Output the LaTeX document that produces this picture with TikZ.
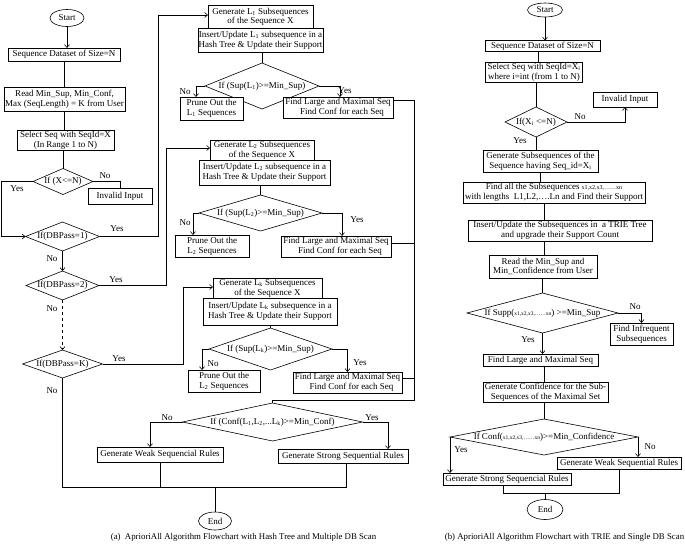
\documentclass[tikz,border=0pt]{standalone}
\usepackage{fontspec}
\setmainfont{Liberation Serif}
\usetikzlibrary{shapes.geometric,arrows.meta,shadows,calc}
\tikzset{
  base/.style={font=\fontsize{9}{9.8}\selectfont, inner sep=0.5pt, outer sep=0pt},
  box/.style={base, draw, fill=white, align=center, line width=0.6pt,
    drop shadow={shadow xshift=0.7pt, shadow yshift=-0.7pt, opacity=1, fill=gray!70}},
  dia/.style={draw, diamond, inner sep=0pt, outer sep=0pt, line width=0.6pt},
  dtext/.style={base, align=center},
  term/.style={base, draw, ellipse, line width=0.6pt},
  lbl/.style={base},
  captext/.style={font=\fontsize{8.8}{10}\selectfont, inner sep=0pt},
  arr/.style={-{Straight Barb[length=3pt,width=5pt]}},
  ln/.style={line width=0.6pt}
}
\begin{document}
\begin{tikzpicture}[x=1pt,y=-1pt]
\useasboundingbox (0,0) rectangle (685,544);
% ===== Left flowchart (a) =====
\node[term, minimum width=34, minimum height=17] (start) at (67,18) {Start};
\node[box, minimum width=112, minimum height=13] (seq) at (64,54.5) {Sequence Dataset of Size=N};
\node[box, minimum width=121, minimum height=24] (read) at (64.5,99) {Read Min\_Sup, Min\_Conf,\\Max (SeqLength) = K from User};
\node[box, minimum width=97, minimum height=20] (sel) at (65.5,140) {Select Seq with SeqId=X\\(In Range 1 to N)};
\node[dia, minimum width=60, minimum height=26] (d0) at (63,181.5) {};
\node[dtext] (d0t) at (d0) {If (X<=N)};
\node[box, minimum width=64, minimum height=16] (inv) at (120,196) {Invalid Input};
\node[dia, minimum width=74, minimum height=29] (d1) at (62.5,236.5) {};
\node[dtext] (d1t) at (d1) {If(DBPass=1)};
\node[dia, minimum width=73, minimum height=29] (d2) at (62.5,285.5) {};
\node[dtext] (d2t) at (d2) {If(DBPass=2)};
\node[dia, minimum width=80, minimum height=28] (dk) at (62.5,364) {};
\node[dtext] (dkt) at (dk) {If(DBPass=K)};

\draw[ln,arr] (start.south) -- (start.south |- seq.north);
\draw[ln] (read.north |- seq.south) -- (read.north);
\draw[ln] (read.south) -- (read.south |- sel.north);
\draw[ln] (d0.north |- sel.south) -- (d0.north);
\draw[ln] (d0.east) -| (inv.north);
\node[lbl] (no0) at (105,176) {No};
\coordinate (c1) at (1,181.5);
\draw[ln,arr] (d0.west) -- (c1) |- (d1.west);
\node[lbl] (yes0) at (17,189) {Yes};

% L1 block
\node[box, minimum width=105, minimum height=23.5] (g1) at (260.5,16.75) {Generate L\textsubscript{1} Subsequences\\of the Sequence X};
\node[box, minimum width=115, minimum height=23.5] (i1) at (260.5,40.25) {Insert/Update L\textsubscript{1} subsequence in a\\Hash Tree \& Update their Support};
\node[dia, minimum width=114, minimum height=46] (s1) at (262,86) {};
\node[dtext] (s1t) at (s1) {If (Sup(L\textsubscript{1})>=Min\_Sup)};
\node[box, minimum width=63, minimum height=23] (p1) at (211.5,108.5) {Prune Out the\\L\textsubscript{1} Sequences};
\node[box, minimum width=110, minimum height=21] (f1) at (338,107.5) {Find Large and Maximal Seq\\\hspace*{8pt}Find Conf for each Seq};
\draw[ln] (s1.north |- i1.south) -- (s1.north);
\draw[ln,arr] (s1.west) -| ([xshift=-15.5pt]p1.north);
\draw[ln,arr] (s1.east) -| ([xshift=2pt]f1.north);
\node[lbl] (no1) at (185,92) {No};
\node[lbl] (yes1) at (345,91) {Yes};
\coordinate (c2) at (158,15);
\draw[ln,arr] (d1.east) -| (c2) -- (c2 -| g1.west);
\node[lbl] (yesd1) at (117,229) {Yes};
\draw[ln,arr] (d1.south) -- (d2.north);
\node[lbl] (nod1) at (52,259) {No};

% L2 block
\node[box, minimum width=104, minimum height=20] (g2) at (262,150) {Generate L\textsubscript{2} Subsequences\\of the Sequence X};
\node[box, minimum width=131, minimum height=25] (i2) at (264.5,172.5) {Insert/Update L\textsubscript{2} subsequence in a\\Hash Tree \& Update their Support};
\node[dia, minimum width=123, minimum height=36] (s2) at (260.5,213) {};
\node[dtext] (s2t) at (s2) {If (Sup(L\textsubscript{2})>=Min\_Sup)};
\node[box, minimum width=74, minimum height=22] (p2) at (212,246) {Prune Out the\\L\textsubscript{2} Sequences};
\node[box, minimum width=110, minimum height=21] (f2) at (336,246.5) {Find Large and Maximal Seq\\\hspace*{8pt}Find Conf for each Seq};
\draw[ln] (s2.north |- i2.south) -- (s2.north);
\draw[ln,arr] (s2.west) -| ([xshift=-19pt]p2.north);
\draw[ln,arr] (s2.east) -| ([xshift=6pt]f2.north);
\node[lbl] (no2) at (185,223) {No};
\node[lbl] (yes2) at (357,220) {Yes};
\coordinate (c3) at (166,148);
\draw[ln,arr] (d2.east) -| (c3) -- (c3 -| g2.west);
\node[lbl] (yesd2) at (116,280) {Yes};
\draw[ln,dashed,arr] (d2.south) -- (dk.north);
\node[lbl] (nod2) at (52,309) {No};

% Lk block
\node[box, minimum width=109, minimum height=20] (gk) at (267.5,288) {Generate L\textsubscript{k} Subsequences\\of the Sequence X};
\node[box, minimum width=134, minimum height=27] (ik) at (270,311.5) {Insert/Update L\textsubscript{k} subsequence in a\\Hash Tree \& Update their Support};
\node[dia, minimum width=123, minimum height=42] (sk) at (270.5,349) {};
\node[dtext] (skt) at (sk) {If (Sup(L\textsubscript{k})>=Min\_Sup)};
\node[box, minimum width=72, minimum height=22] (pk) at (224,381) {Prune Out the\\L\textsubscript{2} Sequences};
\node[box, minimum width=109, minimum height=21] (fk) at (347.5,382.5) {Find Large and Maximal Seq\\\hspace*{8pt}Find Conf for each Seq};
\draw[ln] (sk.north |- ik.south) -- (sk.north);
\draw[ln,arr] (sk.west) -| ([xshift=-22pt]pk.north);
\draw[ln,arr] (sk.east) -| (fk.north);
\node[lbl] (nok) at (213,364) {No};
\node[lbl] (yesk) at (360,363) {Yes};
\coordinate (c4) at (183,287);
\draw[ln,arr] (dk.east) -| (c4) -- (c4 -| gk.west);
\node[lbl] (yesdk) at (119,359) {Yes};
\node[lbl] (nodk) at (52,391) {No};

% trunk and confidence
\coordinate (r1) at (414,100);
\coordinate (r2) at (414,400);
\coordinate (t2) at (414,243);
\coordinate (tk) at (414,378);
\node[dia, minimum width=180, minimum height=38] (conf) at (272.5,422) {};
\node[dtext] (conft) at (conf) {If (Conf(L\textsubscript{1},L\textsubscript{2},...L\textsubscript{k})>=Min\_Conf)};
\draw[ln] (r1 -| f1.east) -- (r1) -- (r2) -| (conf.north);
\draw[ln] (t2 -| f2.east) -- (t2);
\draw[ln] (tk -| fk.east) -- (tk);
\node[box, minimum width=126, minimum height=15] (weak) at (160,454.5) {Generate Weak Sequencial Rules};
\node[box, minimum width=130, minimum height=14] (strong) at (343,456) {Generate Strong Sequential Rules};
\draw[ln,arr] (conf.west) -| ([xshift=-10pt]weak.north);
\draw[ln,arr] (conf.east) -| ([xshift=45pt]strong.north);
\node[lbl] (noc) at (167,418) {No};
\node[lbl] (yesc) at (372,418) {Yes};
\node[term, minimum width=33, minimum height=18] (endA) at (215,521) {End};
\coordinate (b2) at (346,487);
\draw[ln] (dk.south) |- (b2) -- (b2 |- strong.south);
\draw[ln] (weak.south) -- (weak.south |- b2);
\draw[ln] (endA.north) -- (endA.north |- b2);
\node[captext] (capa) at (243.5,537) {(a)\ \ AprioriAll Algorithm Flowchart with Hash Tree and Multiple DB Scan};

% ===== Right flowchart (b) =====
\coordinate (xa) at (538,0);
\coordinate (xc) at (544,0);
\node[term, minimum width=35, minimum height=14] (startB) at (545,10) {Start};
\node[box, minimum width=115, minimum height=11] (seqB) at (542.5,46) {Sequence Dataset of Size=N};
\node[box, minimum width=97, minimum height=20] (selB) at (534,72) {Select Seq with SeqId=X\textsubscript{i}\\where i=int (from 1 to N)};
\node[dia, minimum width=62, minimum height=30] (dB) at (536,122) {};
\node[dtext] (dBt) at (dB) {If(X\textsubscript{i} <=N)};
\node[box, minimum width=64, minimum height=15] (invB) at (625,99.5) {Invalid Input};
\node[box, minimum width=115, minimum height=22] (genB) at (540.5,161) {Generate Subsequences of the\\Sequence having Seq\_id=X\textsubscript{i}};
\node[box, minimum width=182, minimum height=21] (findB) at (554,192.5) {Find all the Subsequences {\fontsize{6}{7}\selectfont x1,x2,x3,……xn}\\with lengths\ \ L1,L2,….Ln and Find their Support};
\node[box, minimum width=184, minimum height=21] (insB) at (560,230.5) {Insert/Update the Subsequences in\ \ a TRIE Tree\\and upgrade their Support Count};
\node[box, minimum width=108, minimum height=23] (readB) at (543,266.5) {Read the Min\_Sup and\\Min\_Confidence from User};
\node[dia, minimum width=151, minimum height=40] (suppB) at (542.5,313) {};
\node[dtext] (suppBt) at (suppB) {If Supp({\fontsize{5.5}{6}\selectfont x1,x2,x3,……xn}) >=Min\_Sup};
\node[box, minimum width=63, minimum height=22] (infB) at (641.5,334) {Find Infrequent\\Subsequences};
\node[box, minimum width=115, minimum height=12] (largeB) at (540.5,360) {Find Large and Maximal Seq};
\node[box, minimum width=125, minimum height=20] (confgB) at (545.5,392) {Generate Confidence for the Sub-\\Sequences of the Maximal Set};
\node[dia, minimum width=188, minimum height=36] (confB) at (544,437) {};
\node[dtext] (confBt) at (confB) {If Conf({\fontsize{5.5}{6}\selectfont x1,x2,x3,……xn})>=Min\_Confidence};
\node[box, minimum width=124, minimum height=12] (weakB) at (619,463) {Generate Weak Sequential Rules};
\node[box, minimum width=128, minimum height=12] (strongB) at (507,479) {Generate Strong Sequencial Rules};
\node[term, minimum width=36, minimum height=20] (endB) at (545,509.5) {End};

\draw[ln,arr] (startB.south) -- (startB.south |- seqB.north);
\draw[ln] (xa |- seqB.south) -- (xa |- selB.north);
\draw[ln] (dB.north |- selB.south) -- (dB.north);
\draw[ln,arr] (dB.east) -| (invB.south);
\node[lbl] (noB0) at (580,117) {No};
\draw[ln] (dB.south) -- (dB.south |- genB.north);
\node[lbl] (yesB0) at (520,141) {Yes};
\draw[ln] (genB.south) -- (genB.south |- findB.north);
\draw[ln] (xc |- findB.south) -- (xc |- insB.north);
\draw[ln] (xc |- insB.south) -- (xc |- readB.north);
\draw[ln] (suppB.north |- readB.south) -- (suppB.north);
\draw[ln,arr] (suppB.east) -| (infB.north);
\node[lbl] (noB1) at (635,307) {No};
\draw[ln,arr] (suppB.south) -- (suppB.south |- largeB.north);
\node[lbl] (yesB1) at (528,340) {Yes};
\draw[ln] (xc |- largeB.south) -- (xc |- confgB.north);
\draw[ln] (confB.north |- confgB.south) -- (confB.north);
\draw[ln,arr] (confB.west) -- (confB.west |- strongB.north);
\node[lbl] (yesB2) at (461,450) {Yes};
\draw[ln,arr] (confB.east) -- (confB.east |- weakB.north);
\node[lbl] (noB2) at (650,447) {No};
\coordinate (jb) at (545,493);
\draw[ln] ([xshift=-4pt]strongB.south) |- (jb -| weakB.south) -- (weakB.south);
\draw[ln] (jb) -- (endB.north);
\node[captext] (capb) at (564.5,537) {(b) AprioriAll Algorithm Flowchart with TRIE and Single DB Scan};
\end{tikzpicture}
\end{document}
